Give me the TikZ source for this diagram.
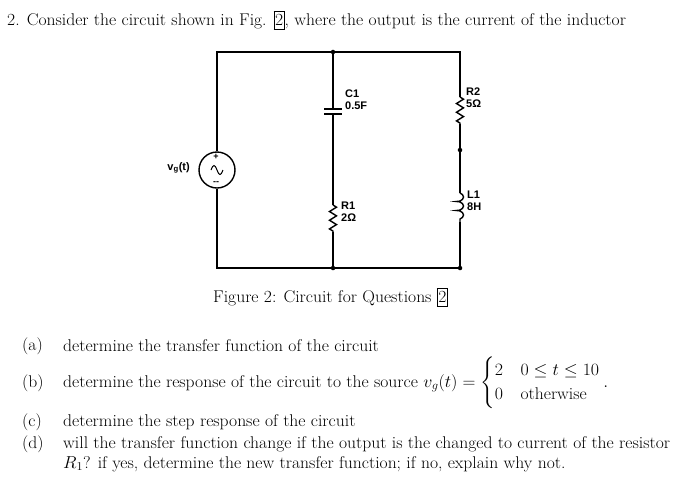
\documentclass[tikz,border=0pt]{standalone}
\usepackage{amsmath}
\usepackage{fontspec}
\newfontfamily\lab{Liberation Sans}
\usetikzlibrary{decorations.pathmorphing}
\begin{document}
\begin{tikzpicture}[x=1pt,y=-1pt,
  wire/.style={line width=1.4pt},
  dot/.style={circle,fill,inner sep=1.6pt},
  lbl/.style={font=\lab\bfseries\fontsize{11}{12}\selectfont,align=left,inner sep=0pt,anchor=west},
  txt/.style={font=\fontsize{17}{20}\selectfont,inner sep=0pt,anchor=west,xscale=1.035,transform shape},
  zig/.style={decorate,decoration={zigzag,segment length=8.7pt,amplitude=3.5pt}},
  coil/.style={decorate,decoration={coil,aspect=0.5,segment length=9pt,amplitude=3.5pt}}]
\useasboundingbox (0,0) rectangle (677,477);
\fill[white] (0,0) rectangle (677,477);
% nodes
\coordinate (tl) at (217,52); \coordinate (tm) at (333,52); \coordinate (tr) at (460,52);
\coordinate (bl) at (217,268); \coordinate (bm) at (333,268); \coordinate (br) at (460,268);
\node[draw,circle,line width=1.4pt,minimum size=36pt,inner sep=0pt] (src) at (217,170) {};
\node[font=\lab\bfseries\fontsize{9}{9}\selectfont] at (216,157) {+};
\node[font=\lab\bfseries\fontsize{9}{9}\selectfont] at (216,183) {--};
\draw[line width=1pt] (211,170) .. controls (213,164) and (215,164) .. (217,170) .. controls (219,176) and (221,176) .. (223,170);
\node[lbl,anchor=east] at (190,168) {v\textsubscript{g}(t)};
\coordinate (c1a) at (333,109); \coordinate (c1b) at (333,114);
\coordinate (r1a) at (333,205); \coordinate (r1b) at (333,232);
\coordinate (r2a) at (460,97); \coordinate (r2b) at (460,124);
\node[dot] (mid) at (460,150) {};
\coordinate (l1a) at (460,193); \coordinate (l1b) at (460,222);
\draw[wire] (src.north) -- (tl) -- (tm) -- (tr) -- (r2a);
\draw[wire,zig] (r2a) -- (r2b);
\draw[wire] (r2b) -- (mid) -- (l1a);
\draw[wire,coil] (l1a) -- (l1b);
\draw[wire] (l1b) -- (br) -- (bm) -- (bl) -- (src.south);
\draw[wire] (tm) -- (c1a); \draw[wire] (c1b) -- (r1a);
\draw[line width=1.6pt] (324,109) -- (342,109); \draw[line width=1.6pt] (324,114) -- (342,114);
\draw[wire,zig] (r1a) -- (r1b);
\draw[wire] (r1b) -- (bm);
\node[dot] at (tm) {}; \node[dot] at (bm) {}; \node[dot] at (br) {};
\node[lbl] at (345,100) {C1\\0.5F};
\node[lbl] at (341,212) {R1\\2Ω};
\node[lbl] at (466,98) {R2\\5Ω};
\node[lbl] at (467,201) {L1\\8H};
% text
\node[txt] (t0) at (7,20) {2. Consider the circuit shown in Fig. \fbox{\kern-2pt 2\kern-2pt}, where the output is the current of the inductor};
\node[txt] (cap) at (213,297) {Figure 2: Circuit for Questions \fbox{\kern-2pt 2\kern-2pt}};
\node[txt] (la) at (22,346) {(a)}; \node[txt] (a) at (63,346) {determine the transfer function of the circuit};
\node[txt] (lb) at (22,383) {(b)}; \node[txt] (b) at (63,383) {determine the response of the circuit to the source $v_g(t)=\begin{cases}2 & 0\le t\le 10\\ 0 & \text{otherwise}\end{cases}.$};
\node[txt] (lc) at (22,422) {(c)}; \node[txt] (c) at (63,422) {determine the step response of the circuit};
\node[txt] (ld) at (22,444) {(d)}; \node[txt] (d) at (63,444) {will the transfer function change if the output is the changed to current of the resistor};
\node[txt] (d2) at (63,464) {$R_1$? if yes, determine the new transfer function; if no, explain why not.};
\end{tikzpicture}
\end{document}
